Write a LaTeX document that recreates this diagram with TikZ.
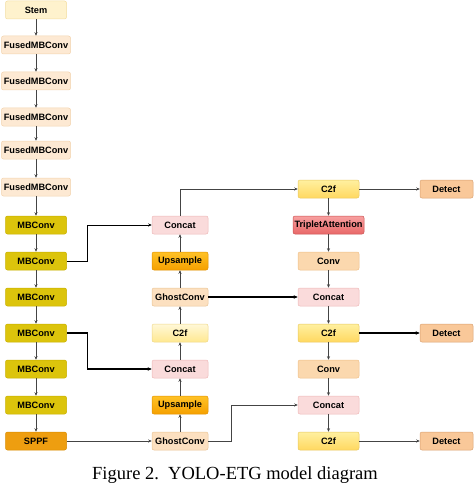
\documentclass[tikz,border=0pt]{standalone}
\usepackage{fontspec}
\setmainfont{Liberation Serif}
\setsansfont{Liberation Sans}
\usetikzlibrary{arrows.meta}
\definecolor{stemF}{HTML}{FEF2CD}\definecolor{stemD}{HTML}{F3DDA0}
\definecolor{fusF}{HTML}{FDE9D3}\definecolor{fusD}{HTML}{F2D3AE}
\definecolor{mbF}{HTML}{DCC40C}\definecolor{mbD}{HTML}{C8B000}
\definecolor{spF}{HTML}{EE9E10}\definecolor{spD}{HTML}{D98C00}
\definecolor{catF}{HTML}{FADBDB}\definecolor{catD}{HTML}{EDB8B8}
\definecolor{upT}{HTML}{FFC226}\definecolor{upB}{HTML}{F5A000}\definecolor{upD}{HTML}{E09000}
\definecolor{ghF}{HTML}{FCE0C0}\definecolor{ghD}{HTML}{EAC495}
\definecolor{caT}{HTML}{FFF8D8}\definecolor{caB}{HTML}{FFE890}\definecolor{caD}{HTML}{EED88A}
\definecolor{cbT}{HTML}{FFF0A0}\definecolor{cbB}{HTML}{FFD860}\definecolor{cbD}{HTML}{E8C860}
\definecolor{taT}{HTML}{F8A0A0}\definecolor{taB}{HTML}{E86868}\definecolor{taD}{HTML}{C85050}
\definecolor{cvF}{HTML}{FBD8AE}\definecolor{cvD}{HTML}{EEC088}
\definecolor{dtF}{HTML}{F9C899}\definecolor{dtD}{HTML}{D9A070}
\definecolor{lineC}{HTML}{444444}
\begin{document}
\begin{tikzpicture}[x=1pt,y=-1pt,
  box/.style={draw, rounded corners=2pt, minimum height=18pt, inner sep=0pt,
    font=\sffamily\bfseries\fontsize{9.2}{10}\selectfont, line width=0.5pt},
  stemst/.style={box, fill=stemF, draw=stemD, minimum width=61pt},
  fusst/.style={box, fill=fusF, draw=fusD, minimum width=69pt},
  mbst/.style={box, fill=mbF, draw=mbD, minimum width=61pt},
  spst/.style={box, fill=spF, draw=spD, minimum width=61pt},
  catst/.style={box, fill=catF, draw=catD},
  upst/.style={box, top color=upT, bottom color=upB, draw=upD, minimum width=56pt},
  ghst/.style={box, fill=ghF, draw=ghD, minimum width=56pt},
  caast/.style={box, top color=caT, bottom color=caB, draw=caD, minimum width=56pt},
  cbst/.style={box, top color=cbT, bottom color=cbB, draw=cbD, minimum width=61pt},
  tast/.style={box, top color=taT, bottom color=taB, draw=taD, minimum width=71pt},
  cvst/.style={box, fill=cvF, draw=cvD, minimum width=61pt},
  dtst/.style={box, fill=dtF, draw=dtD, minimum width=53pt},
  ln/.style={draw=lineC, line width=0.5pt, -{Stealth[length=3.5pt,width=3pt]}},
  thk/.style={draw=black, line width=1.1pt, -{Stealth[length=4pt,width=3.5pt]}}
]
\useasboundingbox (0,0) rectangle (474,484);
% column 1
\node[stemst] (stem) at (36,10) {Stem};
\node[fusst] (f1) at (36,45) {FusedMBConv};
\node[fusst] (f2) at (36,81) {FusedMBConv};
\node[fusst] (f3) at (36,117) {FusedMBConv};
\node[fusst] (f4) at (36,150) {FusedMBConv};
\node[fusst] (f5) at (36,187) {FusedMBConv};
\node[mbst] (m1) at (36,225) {MBConv};
\node[mbst] (m2) at (36,261) {MBConv};
\node[mbst] (m3) at (36,297) {MBConv};
\node[mbst] (m4) at (36,333) {MBConv};
\node[mbst] (m5) at (36,369) {MBConv};
\node[mbst] (m6) at (36,405) {MBConv};
\node[spst] (sppf) at (36,441) {SPPF};
% column 2
\node[catst, minimum width=56pt] (cat1) at (180,225) {Concat};
\node[upst] (up1) at (180,261) {Upsample};
\node[ghst] (gc1) at (180,297) {GhostConv};
\node[caast] (c2fa) at (180,333) {C2f};
\node[catst, minimum width=56pt] (cat2) at (180,369) {Concat};
\node[upst] (up2) at (180,405) {Upsample};
\node[ghst] (gc2) at (180,441) {GhostConv};
% column 3
\node[cbst] (r1) at (328.5,189) {C2f};
\node[tast] (ta) at (328.5,225) {TripletAttention};
\node[cvst] (cv1) at (328.5,261) {Conv};
\node[catst, minimum width=61pt] (rc1) at (328.5,297) {Concat};
\node[cbst] (r2) at (328.5,333) {C2f};
\node[cvst] (cv2) at (328.5,369) {Conv};
\node[catst, minimum width=61pt] (rc2) at (328.5,405) {Concat};
\node[cbst] (r3) at (328.5,441) {C2f};
% detect
\node[dtst] (d1) at (446.5,189) {Detect};
\node[dtst] (d2) at (446.5,333) {Detect};
\node[dtst] (d3) at (446.5,441) {Detect};
% column 1 arrows
\foreach \a/\b in {stem/f1,f1/f2,f2/f3,f3/f4,f4/f5,f5/m1,m1/m2,m2/m3,m3/m4,m4/m5,m5/m6,m6/sppf}
  \draw[ln] (\a) -- (\b);
% column 2 arrows (upward)
\foreach \a/\b in {gc2/up2,up2/cat2,cat2/c2fa,c2fa/gc1,gc1/up1,up1/cat1}
  \draw[ln] (\a) -- (\b);
% column 3 arrows (downward)
\foreach \a/\b in {r1/ta,ta/cv1,cv1/rc1,rc1/r2,r2/cv2,cv2/rc2,rc2/r3}
  \draw[ln] (\a) -- (\b);
% cross connections
\draw[ln, draw=black, line width=0.8pt] (m2.east) -- ++(21,0) |- (cat1.west);
\draw[thk] (m4.east) -- ++(21,0) |- (cat2.west);
\draw[ln] (sppf) -- (gc2);
\draw[ln] (cat1.north) |- (r1.west);
\draw[thk] (gc1) -- (rc1);
\draw[ln] (gc2.east) -- ++(23,0) |- (rc2.west);
\draw[ln] (r1) -- (d1);
\draw[thk] (r2) -- (d2);
\draw[ln] (r3) -- (d3);
% caption
\node[anchor=base, font=\fontsize{18.5}{20}\selectfont, inner sep=0pt] (cap) at (235,479) {Figure 2.\ \ YOLO-ETG model diagram};
\end{tikzpicture}
\end{document}
